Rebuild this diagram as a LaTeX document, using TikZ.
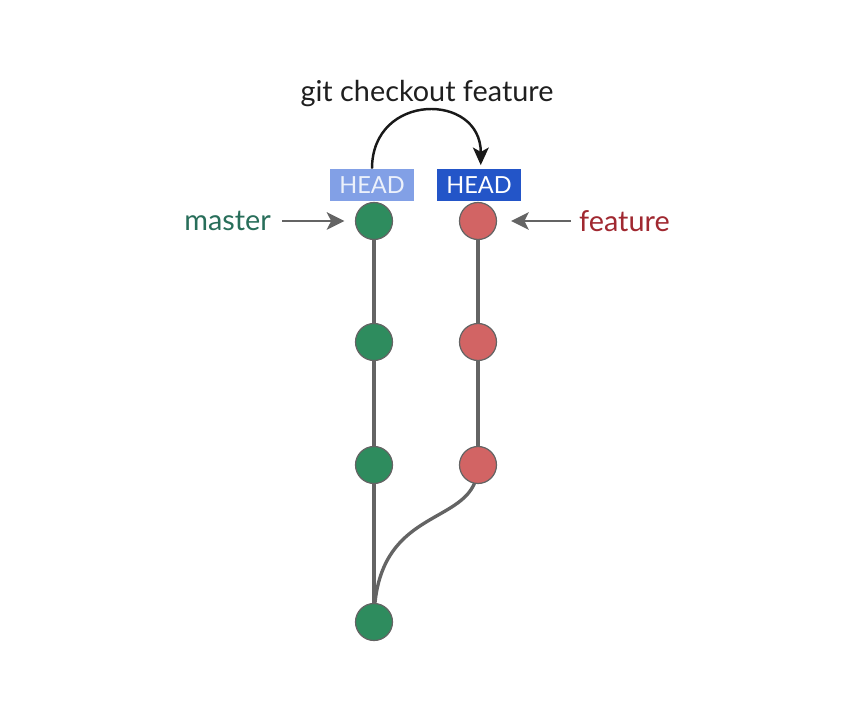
\documentclass[tikz,border=0pt]{standalone}
\usepackage{fontspec}
\setmainfont{Lato}
\usetikzlibrary{arrows.meta,positioning}
\definecolor{gitgreen}{RGB}{46,140,94}
\definecolor{gitred}{RGB}{210,100,100}
\definecolor{mastertxt}{RGB}{40,110,90}
\definecolor{featuretxt}{RGB}{160,40,48}
\definecolor{headblue}{RGB}{35,85,200}
\definecolor{headfade}{RGB}{130,160,230}
\definecolor{linegray}{RGB}{100,100,100}
\newcommand{\lbl}{\fontsize{16.4}{19}\selectfont}

\begin{document}
\begin{tikzpicture}[
    commit/.style={circle, draw=linegray, line width=0.7pt, minimum size=0.74cm, inner sep=0pt},
    head/.style={minimum width=1.68cm, minimum height=0.64cm, inner sep=0pt, text=white, font=\fontsize{13.4}{15}\selectfont},
    branch/.style={linegray, line width=1.9pt},
    pointer/.style={-{Stealth[length=10pt,width=10pt,inset=2.5pt]}, linegray, line width=1.3pt}
  ]
  \useasboundingbox (0,0) rectangle (17.2,14.34);
  % branch lines first, commits on top
  \coordinate (m1c) at (7.48,9.92);
  \coordinate (m4c) at (7.48,1.9);
  \coordinate (f1c) at (9.56,9.92);
  \coordinate (f3c) at (9.56,5.04);
  \draw[branch] (m1c) -- (m4c);
  \draw[branch] (f1c) -- (f3c);
  \draw[branch] (f3c) .. controls (9.56,3.74) and (7.48,4.34) .. (m4c);
  % master commits
  \node[commit, fill=gitgreen] (m1) at (m1c) {};
  \node[commit, fill=gitgreen] (m2) at (7.48,7.5) {};
  \node[commit, fill=gitgreen] (m3) at (7.48,5.04) {};
  \node[commit, fill=gitgreen] (m4) at (m4c) {};
  % feature commits
  \node[commit, fill=gitred] (f1) at (f1c) {};
  \node[commit, fill=gitred] (f2) at (9.56,7.5) {};
  \node[commit, fill=gitred] (f3) at (f3c) {};
  % HEAD labels
  \node[head, fill=headfade, text=white!85!headfade] (oldhead) at (7.44,10.64) {HEAD};
  \node[head, fill=headblue] (newhead) at (9.58,10.64) {HEAD};
  \node[font=\lbl, text=black!88] (cmd) at (8.54,12.46) {git checkout feature};
  \draw[-{Stealth[length=10pt,width=9pt,inset=2.5pt]}, line width=1.4pt, black!90]
    (oldhead.north) .. controls (7.44,12.5) and (9.62,12.5) .. ([xshift=1pt,yshift=2pt]newhead.north);
  % branch names
  \node[font=\lbl, text=mastertxt, anchor=east] (master) at (5.54,9.92) {master};
  \node[font=\lbl, text=featuretxt, anchor=west] (feature) at (11.46,9.92) {feature};
  \path[pointer] ([xshift=3pt]master.east) edge ([xshift=-6pt]m1.west);
  \path[pointer] ([xshift=-1pt]feature.west) edge ([xshift=8pt]f1.east);
\end{tikzpicture}
\end{document}
